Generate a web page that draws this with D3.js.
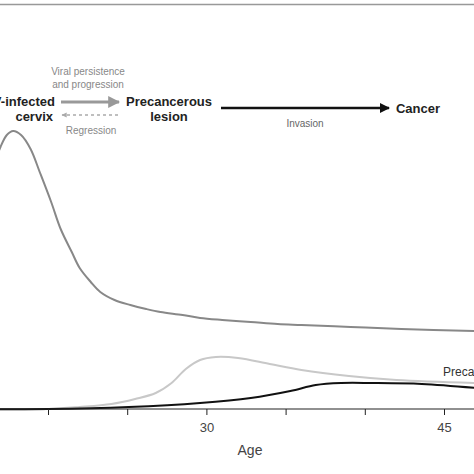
<!DOCTYPE html>
<html><head><meta charset="utf-8">
<script src="https://cdn.jsdelivr.net/npm/d3@7"></script>
<style>body{margin:0;background:#fff}svg{display:block;font-family:"Liberation Sans",Arial,sans-serif}</style>
</head><body>
<script>
const tickAges=[20,25,30,35,40,45];
const tickLabels={30:"30",45:"45"};
const hpvAges=[16.6,17.0,17.4,17.8,18.3,18.9,19.5,20.2,20.8,21.5,22.0,22.7,23.3,24.2,25.2,26.2,27.1,28.5,29.6,31,32.8,34.5,36,39.1,42.3,47];
const hpvVals=[245,262,274,278,274,260,236,207,180,157,141,127,117,109,104,100,97,94,91,89,87,85,84,82,80,78];
const preAges=[15,20,22,24,25.5,26.8,27.8,28.7,29.6,30.6,32.0,34.0,36,39,42,47];
const preVals=[0,0,2,5,10,16,26,40,49,52,51,45,39,33,29,26];
const canAges=[15,20,25.1,29.6,32.8,35.3,36.9,38.5,40.4,43.6,47];
const canVals=[0,0,2,6,11,18,24,26,26,25,21];

const W=474,H=474;
const svg=d3.select("body").append("svg").attr("width",W).attr("height",H);
const x=d3.scaleLinear().domain([20,45]).range([48,444]);
const y=d3.scaleLinear().domain([0,300]).range([409,109]);
svg.append("line").attr("x1",0).attr("x2",W).attr("y1",4.5).attr("y2",4.5).attr("stroke","#999").attr("stroke-width",1.5);

const line=d3.line().x(d=>x(d[0])).y(d=>y(d[1])).curve(d3.curveCatmullRom.alpha(0.5));
const draw=(a,v,c,w)=>svg.append("path").datum(a.map((t,i)=>[t,v[i]])).attr("d",line).attr("fill","none").attr("stroke",c).attr("stroke-width",w);
draw(hpvAges,hpvVals,"#888",2);
draw(preAges,preVals,"#c8c8c8",2);
draw(canAges,canVals,"#111",2);

const ax=svg.append("g").attr("transform","translate(0,409)");
ax.append("line").attr("x1",0).attr("x2",W).attr("stroke","#222").attr("stroke-width",1.2);
ax.call(g=>{
  const a=d3.axisBottom(x).tickValues(tickAges).tickSize(6).tickFormat(d=>tickLabels[d]||"");
  g.call(a);g.select(".domain").remove();
  g.selectAll("line").attr("stroke","#222");
  g.selectAll("text").attr("font-size",13).attr("fill","#444").attr("dy","1.1em");
});
svg.append("text").attr("x",250).attr("y",455).attr("text-anchor","middle").attr("font-size",14).attr("fill","#444").text("Age");
svg.append("text").attr("x",443).attr("y",376).attr("font-size",12).attr("fill","#333").text("Precancerous lesion");

const t=(s,xx,yy,sz,wt,c,anc)=>svg.append("text").attr("x",xx).attr("y",yy).attr("font-size",sz).attr("font-weight",wt).attr("fill",c).attr("text-anchor",anc||"middle").text(s);
t("HPV-infected",55,106,13,"bold","#222","end");
t("cervix",53,121,13,"bold","#222","end");
t("Precancerous",169,106,13,"bold","#222");
t("lesion",169,121,13,"bold","#222");
t("Cancer",418,113,13,"bold","#222");
t("Viral persistence",88,75,10,"normal","#888");
t("and progression",88,88,10,"normal","#888");
t("Regression",91,134,10,"normal","#888");
t("Invasion",305,127,10,"normal","#666");

const defs=svg.append("defs");
const mk=(id,c)=>defs.append("marker").attr("id",id).attr("viewBox","0 0 10 10").attr("refX",9).attr("refY",5).attr("markerWidth",4).attr("markerHeight",4).attr("orient","auto").append("path").attr("d","M0,0L10,5L0,10Z").attr("fill",c);
mk("ag","#999");mk("ak","#111");mk("ad","#aaa");
svg.append("line").attr("x1",61).attr("x2",119).attr("y1",102).attr("y2",102).attr("stroke","#999").attr("stroke-width",3).attr("marker-end","url(#ag)");
svg.append("line").attr("x1",118).attr("x2",62).attr("y1",115).attr("y2",115).attr("stroke","#aaa").attr("stroke-width",1.3).attr("stroke-dasharray","3,3").attr("marker-end","url(#ad)");
svg.append("line").attr("x1",221).attr("x2",389).attr("y1",108).attr("y2",108).attr("stroke","#111").attr("stroke-width",2.5).attr("marker-end","url(#ak)");
</script></body></html>
